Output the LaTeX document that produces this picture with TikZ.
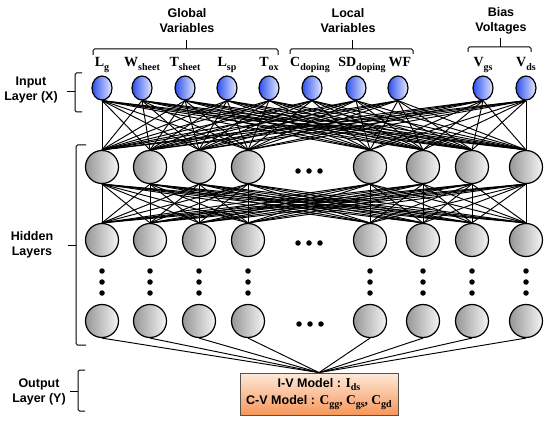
\documentclass[tikz,border=0pt]{standalone}
\usepackage{fontspec}
\setmainfont{Liberation Serif}
\setsansfont{Liberation Sans}
\usetikzlibrary{shapes.geometric}
\newcommand\sbs[1]{\raisebox{-0.28em}{\fontsize{10}{10}\selectfont #1}}
\definecolor{blueL}{RGB}{45,80,235}
\definecolor{blueR}{RGB}{228,234,255}
\definecolor{grayL}{RGB}{150,150,150}
\definecolor{grayR}{RGB}{245,245,245}
\definecolor{boxT}{RGB}{253,234,218}
\definecolor{boxB}{RGB}{247,150,90}
\begin{document}
\begin{tikzpicture}[x=1pt,y=-1pt,
 inp/.style={ellipse, draw=black, line width=1.2pt, minimum width=20pt, minimum height=24pt, inner sep=0pt, left color=blueL, right color=blueR},
 hid/.style={circle, draw=black, line width=1.2pt, minimum size=33pt, inner sep=0pt, left color=grayL, right color=grayR},
 conn/.style={line width=0.95pt, black},
 bracepath/.style={line width=1pt, black, rounded corners=1.5pt},
 lbl/.style={font=\sffamily\bfseries\fontsize{12.5}{15}\selectfont, align=center},
 inlbl/.style={font=\rmfamily\bfseries\fontsize{14}{14}\selectfont, anchor=base, inner sep=0pt},
 dotn/.style={circle, fill=black, inner sep=0pt, minimum size=5.5pt},
 outbox/.style={draw={rgb,255:red,90;green,80;blue,75}, line width=0.8pt, top color=boxT, bottom color=boxB, minimum width=158pt, minimum height=42pt, inner sep=0pt, align=center, font=\sffamily\bfseries\fontsize{12.5}{17}\selectfont}]
\useasboundingbox[fill=white] (0,0) rectangle (550,428);

% input nodes and labels
\foreach \n/\x/\lx/\t in {1/102/102/{L\sbs{g}},2/142/142/{W\sbs{sheet}},3/185/185/{T\sbs{sheet}},4/227/227/{L\sbs{sp}},5/269/269/{T\sbs{ox}},6/312/310/{C\sbs{doping}},7/356/362/{SD\sbs{doping}},8/398/400/{WF},9/483/483/{V\sbs{gs}},10/526/526/{V\sbs{ds}}}{
  \node[inp] (i\n) at (\x,88) {};
  \node[inlbl] (t\n) at (\lx,67) {\t};
}

% hidden nodes
\foreach \n/\x in {1/102,2/150,3/199,4/248,5/370,6/423,7/472,8/526}{
  \node[hid] (a\n) at (\x,167) {};
  \node[hid] (b\n) at (\x,240) {};
  \node[hid] (c\n) at (\x,321) {};
  \node[dotn] (v\n a) at (\x,271) {};
  \node[dotn] (v\n b) at (\x,282) {};
  \node[dotn] (v\n c) at (\x,293) {};
}

% horizontal ellipses
\foreach \k/\x in {1/298,2/309,3/320}{
  \node[dotn] (ha\k) at (\x,171) {};
  \node[dotn] (hb\k) at (\x,243) {};
  \node[dotn] (hc\k) at (\x+1,324) {};
}

% connections
\foreach \i in {1,...,10}{
  \foreach \j in {1,...,8}{
    \draw[conn] (i\i.south) -- (a\j.north);
  }
}
\foreach \i in {1,...,8}{
  \foreach \j in {1,...,8}{
    \draw[conn] (a\i.south) -- (b\j.north);
  }
}

% output
\node[outbox] (out) at (319,394) {I-V Model : {\rmfamily\fontsize{13.5}{17}\selectfont I\sbs{ds}}\\C-V Model : {\rmfamily\fontsize{13.5}{17}\selectfont C\sbs{gg}, C\sbs{gs}, C\sbs{gd}}};
\coordinate (oc) at (out.north);
\foreach \i in {1,...,8}{
  \draw[conn] (c\i.south) -- (oc);
}

% top groups
\node[lbl] (gv) at (187,21) {Global\\Variables};
\node[lbl] (lv) at (348,21) {Local\\Variables};
\node[lbl] (bv) at (501,21) {Bias\\Voltages};
\draw[bracepath] (93,55) -- (93,49) -- (278,49) -- (278,55);
\draw[bracepath] (186,49) -- (186,40);
\draw[bracepath] (290,54) -- (290,49) -- (413,49) -- (413,54);
\draw[bracepath] (352,49) -- (352,40);
\draw[bracepath] (468,52) -- (468,47) -- (531,47) -- (531,52);
\draw[bracepath] (500,47) -- (500,38);

% left labels and braces
\node[lbl] (inl) at (31,90) {Input\\Layer (X)};
\node[lbl] (hl) at (32,245) {Hidden\\Layers};
\node[lbl] (ol) at (39,392) {Output\\Layer (Y)};
\draw[bracepath] (82,73) -- (75,73) -- (75,112) -- (82,112);
\draw[bracepath] (75,92) -- (67,92);
\draw[bracepath] (86,145) -- (76,145) -- (76,345) -- (86,345);
\draw[bracepath] (76,245) -- (68,245);
\draw[bracepath] (85,370) -- (78,370) -- (78,411) -- (85,411);
\draw[bracepath] (78,391) -- (70,391);
\end{tikzpicture}
\end{document}
